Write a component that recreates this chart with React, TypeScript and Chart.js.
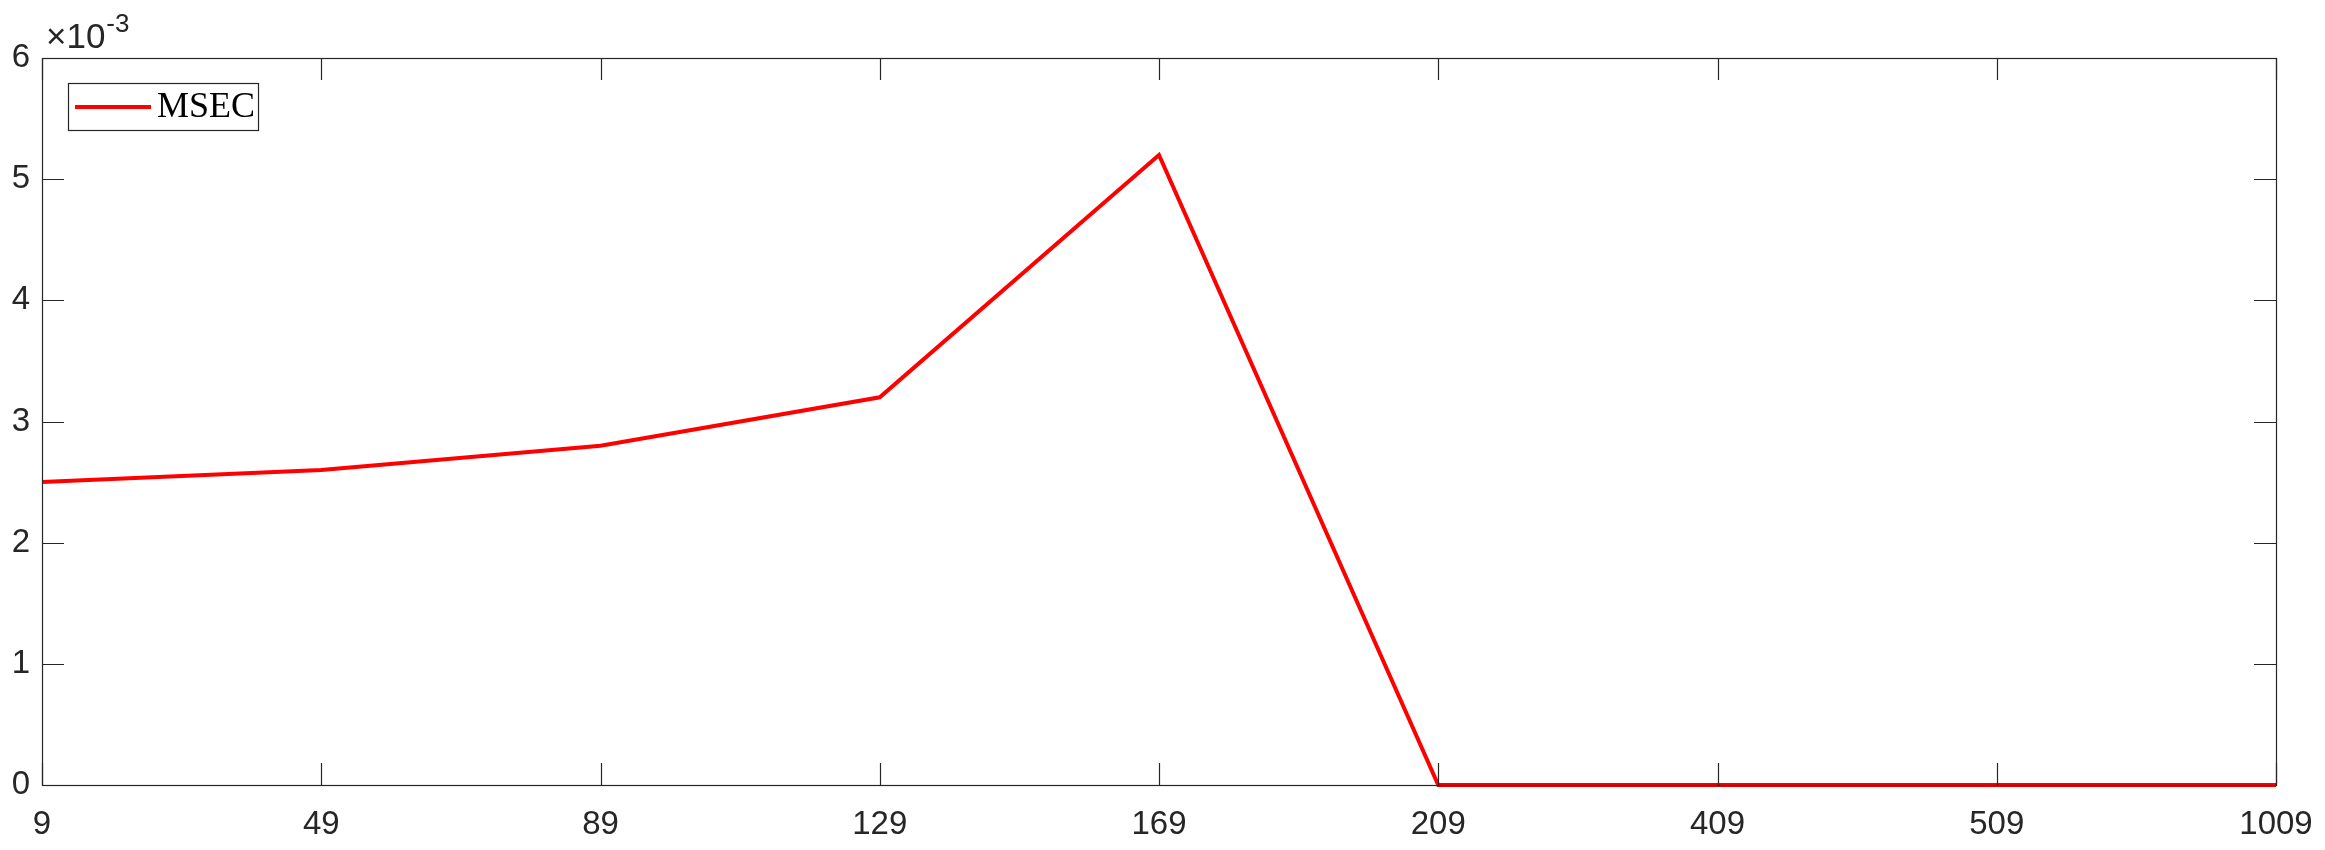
import { useEffect, useRef } from 'react';
import { Chart, registerables } from 'chart.js';

Chart.register(...registerables);

// x categories (sample sizes) and the MSEC series, in units of 1e-3
const sizes = ['9', '49', '89', '129', '169', '209', '409', '509', '1009'];
const msec = [2.5, 2.6, 2.8, 3.2, 5.2, 0, 0, 0, 0];
const yTicks = [0, 1, 2, 3, 4, 5, 6];

const AXIS = '#262626';
const TICK_FONT = '"Liberation Sans", Arial, Helvetica, sans-serif';

// box round the plot, inward ticks on all four sides, exponent and legend
const matlabAxes = {
  id: 'matlabAxes',
  afterDatasetsDraw(chart: Chart) {
    const { ctx, chartArea: a, scales } = chart;
    const x = scales.x;
    const y = scales.y;
    const len = 22;
    ctx.save();
    ctx.strokeStyle = AXIS;
    ctx.lineWidth = 1.2;
    ctx.beginPath();
    x.ticks.forEach((_t, i) => {
      const px = Math.round(x.getPixelForTick(i)) + 0.5;
      ctx.moveTo(px, a.bottom);
      ctx.lineTo(px, a.bottom - len);
      ctx.moveTo(px, a.top);
      ctx.lineTo(px, a.top + len);
    });
    y.ticks.forEach((_t, i) => {
      const py = Math.round(y.getPixelForTick(i)) + 0.5;
      ctx.moveTo(a.left, py);
      ctx.lineTo(a.left + len, py);
      ctx.moveTo(a.right, py);
      ctx.lineTo(a.right - len, py);
    });
    ctx.stroke();
    ctx.strokeRect(Math.round(a.left) + 0.5, Math.round(a.top) + 0.5,
      Math.round(a.right - a.left), Math.round(a.bottom - a.top));

    // exponent label
    ctx.fillStyle = AXIS;
    ctx.textBaseline = 'alphabetic';
    ctx.textAlign = 'left';
    ctx.font = `35px ${TICK_FONT}`;
    ctx.fillText('\u00d710', a.left + 4, a.top - 10);
    const w = ctx.measureText('\u00d710').width;
    ctx.font = `26px ${TICK_FONT}`;
    ctx.fillText('-3', a.left + 5 + w, a.top - 26);

    // legend
    const lx = a.left + 26;
    const ly = a.top + 25;
    const lw = 190;
    const lh = 47;
    ctx.fillStyle = '#ffffff';
    ctx.fillRect(lx, ly, lw, lh);
    ctx.strokeStyle = AXIS;
    ctx.lineWidth = 1.2;
    ctx.strokeRect(lx + 0.5, ly + 0.5, lw, lh);
    ctx.strokeStyle = '#ff0000';
    ctx.lineWidth = 4;
    ctx.beginPath();
    ctx.moveTo(lx + 7, ly + 24);
    ctx.lineTo(lx + 83, ly + 24);
    ctx.stroke();
    ctx.fillStyle = '#000000';
    ctx.font = '36px "Liberation Serif", "Times New Roman", serif';
    ctx.textBaseline = 'middle';
    ctx.fillText('MSEC', lx + 89, ly + 25);
    ctx.restore();
  },
};

export default function App() {
  const canvasRef = useRef<HTMLCanvasElement | null>(null);

  useEffect(() => {
    if (!canvasRef.current) return;
    const chart = new Chart(canvasRef.current, {
      type: 'line',
      data: {
        labels: sizes,
        datasets: [{
          label: 'MSEC',
          data: msec,
          borderColor: '#ff0000',
          backgroundColor: '#ff0000',
          borderWidth: 4,
          pointRadius: 0,
          tension: 0,
          clip: false,
        }],
      },
      options: {
        responsive: false,
        animation: false,
        devicePixelRatio: 1,
        layout: { padding: { left: 0, right: 49, top: 58, bottom: 0 } },
        plugins: {
          legend: { display: false },
          tooltip: { enabled: false },
        },
        scales: {
          x: {
            type: 'category',
            offset: false,
            grid: { display: false, drawTicks: false },
            border: { display: false },
            ticks: {
              color: AXIS,
              font: { family: TICK_FONT, size: 33 },
              padding: 20,
              maxRotation: 0,
              autoSkip: false,
            },
            afterFit: (s) => {
              s.height = 65;
              s.paddingLeft = 0;
              s.paddingRight = 0;
            },
          },
          y: {
            min: 0,
            max: 6,
            grid: { display: false, drawTicks: false },
            border: { display: false },
            afterBuildTicks: (s) => { s.ticks = yTicks.map((v) => ({ value: v })); },
            ticks: {
              color: AXIS,
              font: { family: TICK_FONT, size: 33 },
              padding: 12,
            },
            afterFit: (s) => {
              s.width = 42;
              s.paddingTop = 0;
              s.paddingBottom = 0;
            },
          },
        },
      },
      plugins: [matlabAxes],
    });
    return () => chart.destroy();
  }, []);

  return (
    <div style={{ position: 'absolute', left: 0, top: 0, width: 2325, height: 850, background: '#fff' }}>
      <canvas ref={canvasRef} width={2325} height={850} />
    </div>
  );
}
